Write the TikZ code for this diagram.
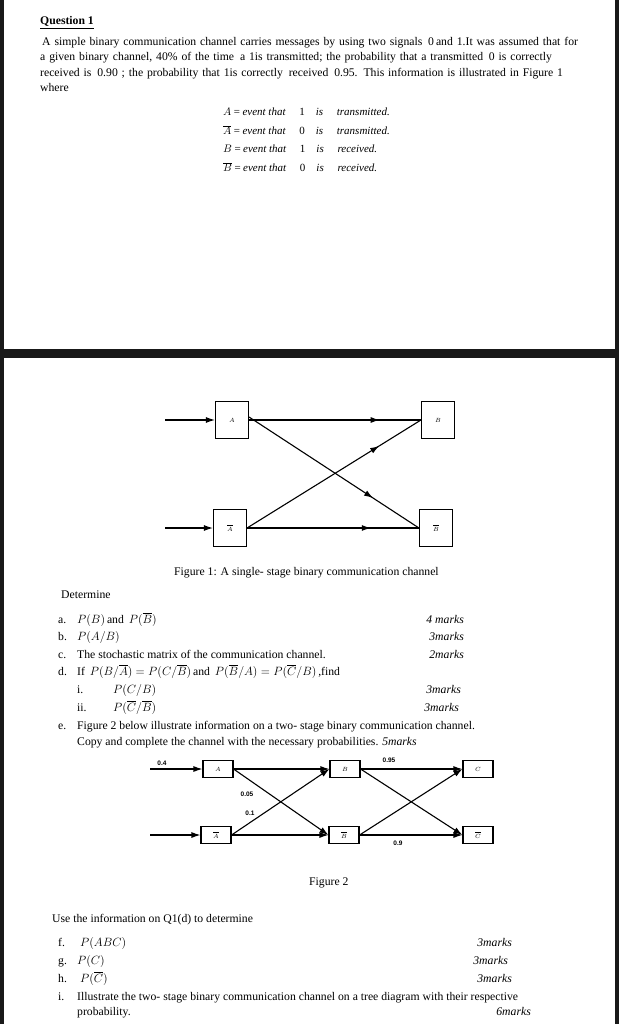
\documentclass[tikz,border=0pt]{standalone}
\usepackage{fontspec}
\setmainfont{Liberation Serif}
\newfontfamily\figfont{Liberation Sans}
\usetikzlibrary{decorations.markings,arrows.meta}
\begin{document}
\begin{tikzpicture}[x=1pt,y=-1pt,
  txt/.style={anchor=base west,inner sep=0pt,font=\fontsize{11.7}{13}\selectfont},
  mk/.style={anchor=base east,inner sep=0pt,font=\fontsize{11.7}{13}\selectfont\itshape},
  boxa/.style={draw,line width=1.1pt,minimum width=33pt,minimum height=37pt,inner sep=0pt,font=\figfont\itshape\fontsize{6}{7}\selectfont},
  boxb/.style={draw,line width=1.1pt,minimum width=30pt,minimum height=17pt,inner sep=0pt,font=\figfont\itshape\fontsize{6}{7}\selectfont},
  lnk/.style={line width=1.1pt},
  mid/.style={lnk,postaction={decorate},decoration={markings,mark=at position #1 with {\arrow{Latex[length=9pt,width=6pt]}}}},
  tip/.style={lnk,-{Latex[length=9pt,width=6pt]}},
  num/.style={font=\figfont\bfseries\fontsize{6.5}{7}\selectfont,inner sep=0pt}]
\useasboundingbox (0,0) rectangle (619,1024);
\fill[black!90] (0,0) rectangle (619,1024);
\fill[white] (4,0) rectangle (615,349);
\fill[white] (4,358) rectangle (615,1024);
% top text
\node[txt,font=\fontsize{11.7}{13}\selectfont\bfseries] (q) at (40,25) {\underline{Question 1}};
\node[anchor=north west,inner sep=0pt,text width=560pt,font=\fontsize{11.7}{15.3}\selectfont,align=left] (p) at (40,37)
{\hspace*{2pt}A simple binary communication channel carries messages by using two signals \,0\,and 1.It was assumed that for\\ a given binary channel, 40\% of the time \,a 1is transmitted; the probability that a transmitted \,0 is correctly\\ received is \,0.90 ; the probability that 1is correctly \,received \,0.95. This information is illustrated in Figure 1\\ where};
\foreach \y/\l/\d/\w in {116/A/1/transmitted,135/\overline{A}/0/transmitted,153/B/1/received,172/\overline{B}/0/received}
  \node[txt,font=\fontsize{11}{12}\selectfont\itshape] at (223,\y) {$\l$\,=\,event that \quad\upshape\d\quad\itshape is \quad\w.};
% Figure 1
\node[boxa] (A) at (232,420) {$A$};
\node[boxa] (B) at (438,420) {$B$};
\node[boxa] (Ab) at (230,528) {$\overline{A}$};
\node[boxa] (Bb) at (436,528) {$\overline{B}$};
\coordinate (ia) at (165,420); \coordinate (ib) at (165,528);
\draw[tip] (ia) -- (A.west);
\draw[tip] (ib) -- (Ab.west);
\draw[mid=0.76] (A.east) -- (B.west);
\draw[mid=0.72] (Ab.east) -- (Bb.west);
\draw[mid=0.73] ([yshift=3pt]A.east) -- (Bb.west);
\draw[mid=0.76] (Ab.east) -- (B.west);
\node[txt] (c1) at (174,575) {Figure 1: A single- stage binary communication channel};
% questions
\node[txt] at (61,598) {Determine};
\foreach \y/\a/\b in {623/a./{$P(B)$\,and \,$P(\overline{B})$},640/b./{$P(A/B)$},658/c./{The stochastic matrix of the communication channel.},675/d./{If \,$P(B/\overline{A})=P(C/\overline{B})$\,and \,$P(\overline{B}/A)=P(\overline{C}/B)$\,,find}}
  {\node[txt] at (58,\y) {\a}; \node[txt] at (77,\y) {\b};}
\node[mk] at (464,623) {4 marks};
\node[mk] at (464,640) {3marks};
\node[mk] at (464,658) {2marks};
\node[txt] at (77,693) {i.}; \node[txt] at (113,693) {$P(C/B)$}; \node[mk] at (461,693) {3marks};
\node[txt] at (77,711) {ii.}; \node[txt] at (113,711) {$P(\overline{C}/\overline{B})$}; \node[mk] at (459,711) {3marks};
\node[txt] at (58,729) {e.};
\node[txt] at (77,729) {Figure 2 below illustrate information on a two- stage binary communication channel.};
\node[txt] at (77,745) {Copy and complete the channel with the necessary probabilities. \textit{5marks}};
% Figure 2
\node[boxb] (A2) at (218,769) {$A$};
\node[boxb] (B2) at (345,769) {$B$};
\node[boxb] (C2) at (478,769) {$C$};
\node[boxb] (Ab2) at (216,835) {$\overline{A}$};
\node[boxb] (Bb2) at (344,835) {$\overline{B}$};
\node[boxb] (Cb2) at (478,835) {$\overline{C}$};
\coordinate (ja) at (150,769); \coordinate (jb) at (150,835);
\draw[tip] (ja) -- (A2.west);
\draw[tip] (jb) -- (Ab2.west);
\draw[tip] (A2.east) -- (B2.west);
\draw[tip] (A2.east) -- (Bb2.west);
\draw[tip] (Ab2.east) -- (B2.west);
\draw[tip] (Ab2.east) -- (Bb2.west);
\draw[tip] (B2.east) -- (C2.west);
\draw[tip] (B2.east) -- (Cb2.west);
\draw[tip] (Bb2.east) -- (C2.west);
\draw[tip] (Bb2.east) -- (Cb2.west);
\node[num] (n1) at (162,763) {0.4};
\node[num] (n2) at (389,760) {0.95};
\node[num] (n3) at (247,794) {0.05};
\node[num] (n4) at (250,813) {0.1};
\node[num] (n5) at (398,843) {0.9};
\node[txt] (c2) at (309,885) {Figure 2};
\node[txt] at (52,922) {Use the information on Q1(d) to determine};
\node[txt] at (58,946) {f.}; \node[txt] at (80,946) {$P(ABC)$}; \node[mk] at (512,946) {3marks};
\node[txt] at (58,964) {g.}; \node[txt] at (77,964) {$P(C)$}; \node[mk] at (508,964) {3marks};
\node[txt] at (58,982) {h.}; \node[txt] at (80,982) {$P(\overline{C})$}; \node[mk] at (512,982) {3marks};
\node[txt] at (58,1000) {i.}; \node[txt] at (77,1000) {Illustrate the two- stage binary communication channel on a tree diagram with their respective};
\node[txt] at (77,1015) {probability.}; \node[mk] at (531,1015) {6marks};
\end{tikzpicture}
\end{document}
